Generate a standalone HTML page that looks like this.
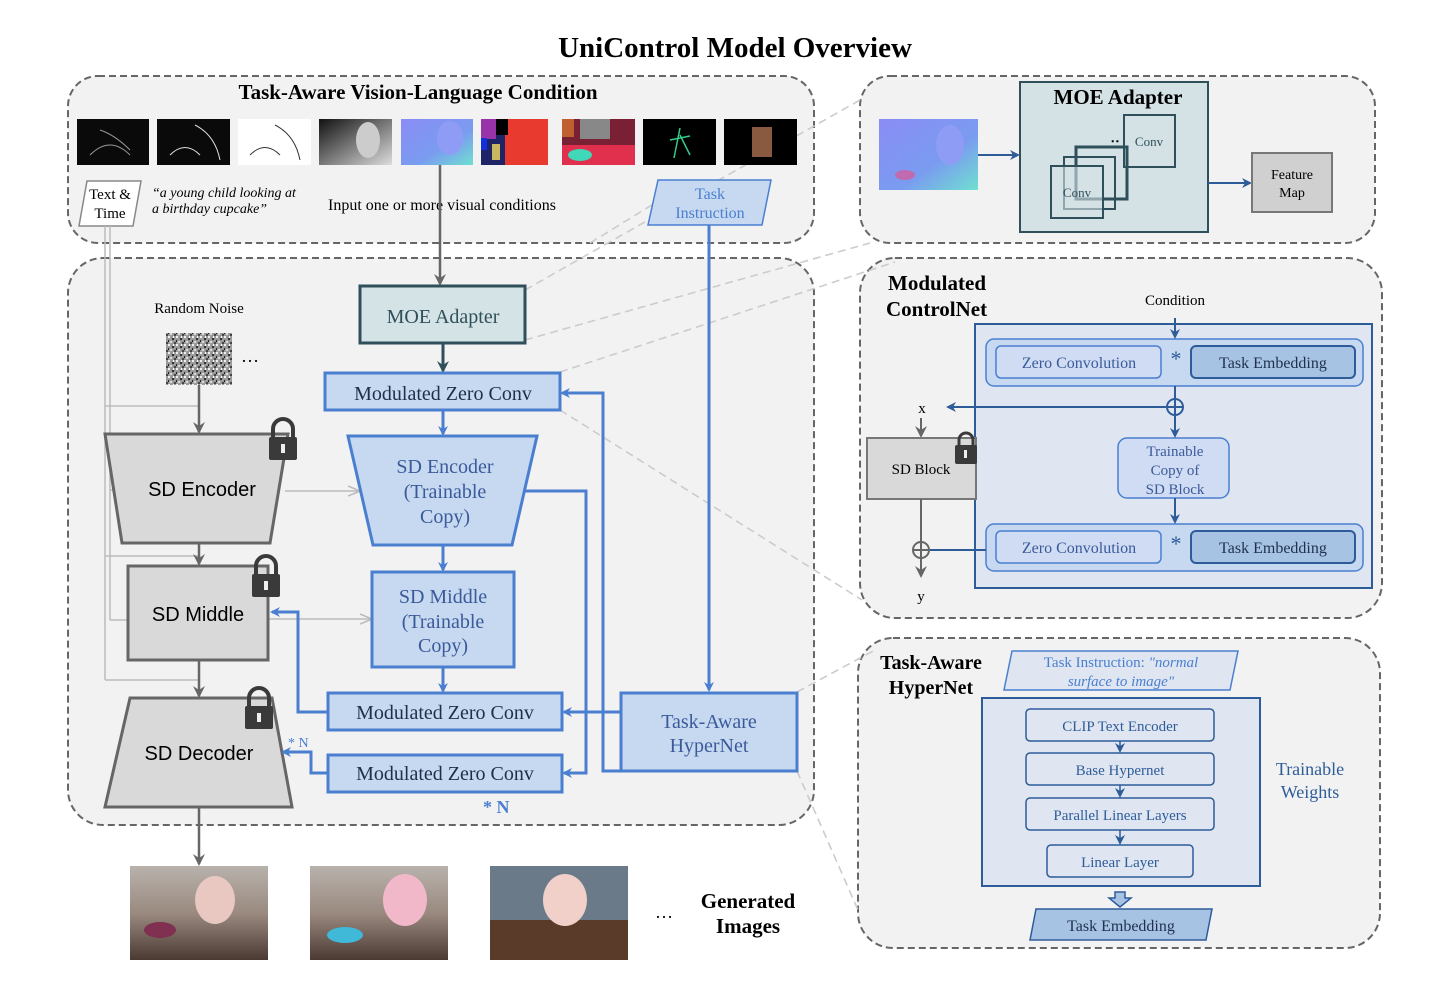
<!DOCTYPE html>
<html><head><meta charset="utf-8"><style>
body{margin:0;background:#fff}
svg{display:block}
text{font-family:"Liberation Serif",serif}
.s{font-family:"Liberation Sans",sans-serif}
</style></head><body>
<svg width="1440" height="983" viewBox="0 0 1440 983" xmlns="http://www.w3.org/2000/svg">
<defs>
<marker id="ab" markerWidth="10" markerHeight="10" refX="8" refY="5" orient="auto" markerUnits="userSpaceOnUse"><path d="M0,0 L10,5 L0,10 L3,5z" fill="#4a7fd0"/></marker>
<marker id="ag" markerWidth="12" markerHeight="12" refX="10" refY="6" orient="auto" markerUnits="userSpaceOnUse"><path d="M0,0 L12,6 L0,12 L4,6z" fill="#666"/></marker>
<marker id="al" markerWidth="12" markerHeight="12" refX="10" refY="6" orient="auto" markerUnits="userSpaceOnUse"><path d="M0,1 L12,6 L0,11" fill="none" stroke="#bbb" stroke-width="1.5"/></marker>
<marker id="ad" markerWidth="12" markerHeight="12" refX="10" refY="6" orient="auto" markerUnits="userSpaceOnUse"><path d="M0,0 L12,6 L0,12 L4,6z" fill="#2f4f5a"/></marker>
<marker id="an" markerWidth="10" markerHeight="10" refX="8" refY="5" orient="auto" markerUnits="userSpaceOnUse"><path d="M0,0 L10,5 L0,10 L3,5z" fill="#2e5c99"/></marker>
<linearGradient id="nm" x1="0" y1="0" x2="1" y2="1"><stop offset="0" stop-color="#8a8cf5"/><stop offset=".6" stop-color="#7a9cf0"/><stop offset="1" stop-color="#6fe0d0"/></linearGradient>
<linearGradient id="dp" x1="0" y1="0" x2="1" y2="1"><stop offset="0" stop-color="#111"/><stop offset="1" stop-color="#ddd"/></linearGradient>
<linearGradient id="ph" x1="0" y1="0" x2="0" y2="1"><stop offset="0" stop-color="#b8b2ac"/><stop offset=".5" stop-color="#9a8a80"/><stop offset="1" stop-color="#4a3a32"/></linearGradient>
<pattern id="nz" width="8" height="8" patternUnits="userSpaceOnUse"><rect width="8" height="8" fill="#999"/><rect x="0" y="0" width="2" height="2" fill="#eee"/><rect x="4" y="2" width="2" height="2" fill="#333"/><rect x="2" y="5" width="2" height="2" fill="#ddd"/><rect x="6" y="6" width="2" height="2" fill="#444"/><rect x="5" y="0" width="1" height="2" fill="#fff"/><rect x="0" y="4" width="1" height="2" fill="#222"/></pattern>
</defs>

<text x="735" y="57" text-anchor="middle" font-size="29" font-weight="bold">UniControl Model Overview</text>

<g fill="#f2f2f2" stroke="#666" stroke-width="2" stroke-dasharray="7,4">
<rect x="68" y="76" width="746" height="167" rx="30"/>
<rect x="68" y="258" width="746" height="567" rx="35"/>
<rect x="860" y="76" width="515" height="167" rx="30"/>
<rect x="860" y="258" width="522" height="360" rx="35"/>
<rect x="858" y="638" width="522" height="310" rx="35"/>
</g>
<g stroke="#ccc" stroke-width="1.6" stroke-dasharray="8,5" fill="none">
<line x1="525" y1="290" x2="860" y2="100"/>
<line x1="525" y1="340" x2="870" y2="243"/>
<line x1="560" y1="372" x2="895" y2="262"/>
<line x1="560" y1="410" x2="862" y2="600"/>
<line x1="797" y1="692" x2="875" y2="650"/>
<line x1="797" y1="771" x2="858" y2="910"/>
<line x1="590" y1="243" x2="660" y2="200"/>
</g>

<text x="418" y="99" text-anchor="middle" font-size="21" font-weight="bold">Task-Aware Vision-Language Condition</text>
<rect x="77" y="119" width="72" height="46" fill="#0a0a0a"/><path d="M90,155 q20,-20 40,0 M100,130 q15,5 30,20" stroke="#999" fill="none"/>
<rect x="157" y="119" width="73" height="46" fill="#0a0a0a"/><path d="M170,155 q15,-15 30,0 M195,125 q20,10 25,35" stroke="#ddd" fill="none"/>
<rect x="238" y="119" width="73" height="46" fill="#fff"/><path d="M250,155 q15,-15 30,0 M275,125 q20,10 25,35" stroke="#333" fill="none"/>
<rect x="319" y="119" width="73" height="46" fill="url(#dp)"/><ellipse cx="368" cy="140" rx="12" ry="18" fill="#ccc"/>
<rect x="401" y="119" width="72" height="46" fill="url(#nm)"/><ellipse cx="450" cy="138" rx="13" ry="17" fill="#8f9cf5"/>
<rect x="481" y="119" width="67" height="46" fill="#1e2466"/><rect x="481" y="119" width="15" height="20" fill="#9933aa"/><rect x="505" y="119" width="43" height="46" fill="#e83a2e"/><rect x="496" y="119" width="12" height="16" fill="#000"/><rect x="492" y="144" width="8" height="16" fill="#c8b860"/><rect x="481" y="138" width="6" height="12" fill="#1030e0"/>
<rect x="562" y="119" width="73" height="46" fill="#7a2035"/><rect x="562" y="145" width="73" height="20" fill="#e0304d"/><rect x="580" y="119" width="30" height="20" fill="#888"/><ellipse cx="580" cy="155" rx="12" ry="6" fill="#40d8b8"/><rect x="562" y="119" width="12" height="18" fill="#c06030"/>
<rect x="643" y="119" width="73" height="46" fill="#000"/><path d="M680,128 l-6,30 M680,135 l10,20 M670,140 l20,-4" stroke="#3c8" stroke-width="1.5"/>
<rect x="724" y="119" width="73" height="46" fill="#000"/><rect x="752" y="127" width="20" height="30" fill="#8a5a40"/>

<path d="M87,181 L141,181 L133,226 L79,226z" fill="#fff" stroke="#888" stroke-width="1.5"/>
<text x="110" y="199" text-anchor="middle" font-size="15">Text &amp;</text>
<text x="110" y="218" text-anchor="middle" font-size="15">Time</text>
<text x="152" y="197" font-size="14" font-style="italic">“a young child looking at</text>
<text x="152" y="213" font-size="14" font-style="italic">a birthday cupcake”</text>
<text x="328" y="210" font-size="16">Input one or more visual conditions</text>
<path d="M658,180 L771,180 L762,225 L648,225z" fill="#c6d9f1" stroke="#4a7fd0" stroke-width="1.5"/>
<text x="710" y="199" text-anchor="middle" font-size="16" fill="#4a7fd0">Task</text>
<text x="710" y="218" text-anchor="middle" font-size="16" fill="#4a7fd0">Instruction</text>

<g stroke="#bbb" stroke-width="1.5" fill="none">
<line x1="105" y1="226" x2="105" y2="680"/>
<line x1="110" y1="226" x2="110" y2="620"/>
<line x1="105" y1="406" x2="200" y2="406"/>
<line x1="105" y1="556" x2="200" y2="556"/>
<line x1="105" y1="680" x2="200" y2="680"/>
<line x1="110" y1="490" x2="120" y2="490"/>
<line x1="110" y1="620" x2="128" y2="620"/>
<line x1="285" y1="491" x2="358" y2="491" marker-end="url(#al)"/>
<line x1="268" y1="619" x2="370" y2="619" marker-end="url(#al)"/>
</g>

<text x="199" y="313" text-anchor="middle" font-size="15">Random Noise</text>
<rect x="166" y="333" width="66" height="52" fill="url(#nz)"/>
<text x="250" y="362" text-anchor="middle" font-size="18">…</text>

<g stroke="#666" stroke-width="2.5" fill="none">
<line x1="199" y1="385" x2="199" y2="432" marker-end="url(#ag)"/>
<line x1="199" y1="543" x2="199" y2="564" marker-end="url(#ag)"/>
<line x1="199" y1="660" x2="199" y2="696" marker-end="url(#ag)"/>
<line x1="199" y1="807" x2="199" y2="864" marker-end="url(#ag)"/>
<line x1="440" y1="165" x2="440" y2="284" marker-end="url(#ag)"/>
</g>

<g fill="#d9d9d9" stroke="#666" stroke-width="3">
<path d="M105,434 L288,434 L270,543 L122,543z"/>
<rect x="128" y="566" width="140" height="94"/>
<path d="M130,698 L272,698 L292,807 L105,807z"/>
</g>
<text class="s" x="202" y="496" text-anchor="middle" font-size="20">SD Encoder</text>
<text class="s" x="198" y="621" text-anchor="middle" font-size="20">SD Middle</text>
<text class="s" x="199" y="760" text-anchor="middle" font-size="20">SD Decoder</text>
<g fill="#3a3a3a">
<path d="M273,437 v-8 a10,10 0 0 1 20,0 v8" fill="none" stroke="#3a3a3a" stroke-width="4"/><rect x="269" y="437" width="28" height="23" rx="2"/><rect x="281" y="444" width="4" height="9" fill="#eee"/>
<path d="M256,574 v-8 a10,10 0 0 1 20,0 v8" fill="none" stroke="#3a3a3a" stroke-width="4"/><rect x="252" y="574" width="28" height="23" rx="2"/><rect x="264" y="581" width="4" height="9" fill="#eee"/>
<path d="M249,706 v-8 a10,10 0 0 1 20,0 v8" fill="none" stroke="#3a3a3a" stroke-width="4"/><rect x="245" y="706" width="28" height="23" rx="2"/><rect x="257" y="713" width="4" height="9" fill="#eee"/>
</g>

<rect x="360" y="286" width="165" height="57" fill="#d4e3e5" stroke="#2f4f5a" stroke-width="3"/>
<text x="443" y="323" text-anchor="middle" font-size="20" fill="#2f4f5a">MOE Adapter</text>
<line x1="443" y1="343" x2="443" y2="371" stroke="#2f4f5a" stroke-width="3" marker-end="url(#ad)"/>

<g fill="#c6d9f1" stroke="#4a7fd0" stroke-width="3">
<rect x="325" y="373" width="235" height="37"/>
<path d="M348,436 L537,436 L512,545 L373,545z"/>
<rect x="372" y="572" width="142" height="95"/>
<rect x="328" y="693" width="234" height="37"/>
<rect x="328" y="755" width="234" height="37"/>
<rect x="621" y="693" width="176" height="78"/>
</g>
<g font-size="20" text-anchor="middle" fill="#1f2f4a">
<text x="443" y="400">Modulated Zero Conv</text>
<text x="445" y="473" fill="#3b5a9a">SD Encoder</text>
<text x="445" y="498" fill="#3b5a9a">(Trainable</text>
<text x="445" y="523" fill="#3b5a9a">Copy)</text>
<text x="443" y="603" fill="#3b5a9a">SD Middle</text>
<text x="443" y="628" fill="#3b5a9a">(Trainable</text>
<text x="443" y="652" fill="#3b5a9a">Copy)</text>
<text x="445" y="719">Modulated Zero Conv</text>
<text x="445" y="780">Modulated Zero Conv</text>
<text x="709" y="728" fill="#3b5a9a">Task-Aware</text>
<text x="709" y="752" fill="#3b5a9a">HyperNet</text>
</g>
<g stroke="#4a7fd0" stroke-width="3" fill="none">
<line x1="443" y1="410" x2="443" y2="434" marker-end="url(#ab)"/>
<line x1="443" y1="545" x2="443" y2="570" marker-end="url(#ab)"/>
<line x1="443" y1="667" x2="443" y2="691" marker-end="url(#ab)"/>
<line x1="709" y1="225" x2="709" y2="690" marker-end="url(#ab)"/>
<polyline points="523,491 586,491 586,773 564,773" marker-end="url(#ab)"/>
<polyline points="621,712 603,712 603,393 562,393" marker-end="url(#ab)"/>
<polyline points="603,712 564,712" marker-end="url(#ab)"/>
<polyline points="603,712 603,771 621,771"/>
<polyline points="328,712 298,712 298,612 272,612" marker-end="url(#ab)"/>
<polyline points="328,773 311,773 311,752 283,752" marker-end="url(#ab)"/>
</g>
<text x="288" y="747" font-size="14" fill="#4a7fd0">* N</text>
<text x="483" y="813" font-size="18" fill="#4a7fd0" font-weight="bold">* N</text>

<rect x="130" y="866" width="138" height="94" fill="url(#ph)"/><ellipse cx="215" cy="900" rx="20" ry="24" fill="#e8c8c0"/><ellipse cx="160" cy="930" rx="16" ry="8" fill="#803050"/>
<rect x="310" y="866" width="138" height="94" fill="url(#ph)"/><ellipse cx="405" cy="900" rx="22" ry="26" fill="#f0b8c8"/><ellipse cx="345" cy="935" rx="18" ry="8" fill="#40b8d8"/>
<rect x="490" y="866" width="138" height="94" fill="#6a7a88"/><rect x="490" y="920" width="138" height="40" fill="#5a3a28"/><ellipse cx="565" cy="900" rx="22" ry="26" fill="#f0d0c8"/>
<text x="664" y="918" text-anchor="middle" font-size="18">…</text>
<text x="748" y="908" text-anchor="middle" font-size="21" font-weight="bold">Generated</text>
<text x="748" y="933" text-anchor="middle" font-size="21" font-weight="bold">Images</text>

<rect x="879" y="119" width="99" height="71" fill="url(#nm)"/><ellipse cx="950" cy="145" rx="14" ry="20" fill="#8f9cf5"/><ellipse cx="905" cy="175" rx="10" ry="5" fill="#c06ab0"/>
<rect x="1020" y="82" width="188" height="150" fill="#d4e1e5" stroke="#2f4f5a" stroke-width="2"/>
<text x="1118" y="104" text-anchor="middle" font-size="21" font-weight="bold">MOE Adapter</text>
<rect x="1124" y="115" width="51" height="52" fill="none" stroke="#2f4f5a" stroke-width="2"/>
<text x="1149" y="146" text-anchor="middle" font-size="13" fill="#2f4f5a">Conv</text>
<text x="1115" y="142" text-anchor="middle" font-size="14" font-weight="bold">‥</text>
<rect x="1076" y="147" width="51" height="52" fill="none" stroke="#2f4f5a" stroke-width="3"/>
<rect x="1064" y="157" width="51" height="52" fill="none" stroke="#2f4f5a" stroke-width="2"/>
<rect x="1051" y="166" width="52" height="52" fill="#d4e1e5" fill-opacity=".6" stroke="#2f4f5a" stroke-width="2"/>
<text x="1077" y="197" text-anchor="middle" font-size="13" fill="#2f4f5a">Conv</text>
<line x1="978" y1="155" x2="1018" y2="155" stroke="#2e5c99" stroke-width="2" marker-end="url(#an)"/>
<line x1="1208" y1="183" x2="1250" y2="183" stroke="#2e5c99" stroke-width="2" marker-end="url(#an)"/>
<rect x="1252" y="153" width="80" height="59" fill="#d0d0d0" stroke="#777" stroke-width="2"/>
<text x="1292" y="179" text-anchor="middle" font-size="14">Feature</text>
<text x="1292" y="197" text-anchor="middle" font-size="14">Map</text>

<text x="888" y="290" font-size="21" font-weight="bold">Modulated</text>
<text x="886" y="316" font-size="21" font-weight="bold">ControlNet</text>
<text x="1175" y="305" text-anchor="middle" font-size="15">Condition</text>
<rect x="975" y="324" width="397" height="264" fill="#dfe6f1" stroke="#2e5c99" stroke-width="2"/>
<g stroke="#4a7fd0" stroke-width="1.5">
<rect x="986" y="339" width="377" height="47" rx="8" fill="#c6d9f1"/>
<rect x="986" y="524" width="377" height="47" rx="8" fill="#c6d9f1"/>
<rect x="996" y="346" width="165" height="32" rx="5" fill="#cfdcf3"/>
<rect x="996" y="531" width="165" height="32" rx="5" fill="#cfdcf3"/>
<rect x="1118" y="438" width="111" height="60" rx="9" fill="#cfdcf3"/>
</g>
<rect x="1191" y="346" width="164" height="32" rx="5" fill="#a7c3e3" stroke="#2e5c99" stroke-width="2"/>
<rect x="1191" y="531" width="164" height="32" rx="5" fill="#a7c3e3" stroke="#2e5c99" stroke-width="2"/>
<g font-size="16" text-anchor="middle" fill="#3b5a9a">
<text x="1079" y="368">Zero Convolution</text><text x="1273" y="368" fill="#1f3050">Task Embedding</text>
<text x="1079" y="553">Zero Convolution</text><text x="1273" y="553" fill="#1f3050">Task Embedding</text>
<text x="1175" y="456" font-size="15">Trainable</text><text x="1175" y="475" font-size="15">Copy of</text><text x="1175" y="494" font-size="15">SD Block</text>
</g>
<text x="1176" y="366" text-anchor="middle" font-size="22" fill="#2e5c99">*</text>
<text x="1176" y="551" text-anchor="middle" font-size="22" fill="#2e5c99">*</text>
<g stroke="#2e5c99" stroke-width="2" fill="none">
<line x1="1175" y1="318" x2="1175" y2="337" marker-end="url(#an)"/>
<line x1="1175" y1="386" x2="1175" y2="436" marker-end="url(#an)"/>
<line x1="1175" y1="498" x2="1175" y2="522" marker-end="url(#an)"/>
<circle cx="1175" cy="407" r="8"/><line x1="1167" y1="407" x2="1183" y2="407"/>
<line x1="1166" y1="407" x2="948" y2="407" marker-end="url(#an)"/>
<line x1="986" y1="550" x2="930" y2="550"/>
</g>
<text x="922" y="413" text-anchor="middle" font-size="15">x</text>
<rect x="867" y="438" width="109" height="61" fill="#d9d9d9" stroke="#777" stroke-width="2"/>
<text x="921" y="474" text-anchor="middle" font-size="15">SD Block</text>
<path d="M959,445 v-5 a7,7 0 0 1 14,0 v5" fill="none" stroke="#3a3a3a" stroke-width="3"/><rect x="955" y="445" width="22" height="19" rx="2" fill="#3a3a3a"/><rect x="964" y="450" width="3" height="8" fill="#eee"/>
<g stroke="#666" stroke-width="2" fill="none">
<line x1="921" y1="418" x2="921" y2="436" marker-end="url(#ag)"/>
<line x1="921" y1="499" x2="921" y2="576" marker-end="url(#ag)"/>
<circle cx="921" cy="550" r="8"/><line x1="913" y1="550" x2="929" y2="550"/>
</g>
<text x="921" y="601" text-anchor="middle" font-size="15">y</text>

<text x="931" y="669" text-anchor="middle" font-size="20" font-weight="bold">Task-Aware</text>
<text x="931" y="694" text-anchor="middle" font-size="20" font-weight="bold">HyperNet</text>
<path d="M1012,651 L1238,651 L1230,690 L1004,690z" fill="#dfe6f1" stroke="#4a7fd0" stroke-width="1.5"/>
<text x="1121" y="667" text-anchor="middle" font-size="15" fill="#4a7fd0">Task Instruction: <tspan font-style="italic">"normal</tspan></text>
<text x="1121" y="686" text-anchor="middle" font-size="15" fill="#4a7fd0" font-style="italic">surface to image"</text>
<rect x="982" y="698" width="278" height="188" fill="#dfe6f1" stroke="#2e5c99" stroke-width="2"/>
<g fill="#dfe6f1" stroke="#2e5c99" stroke-width="1.5">
<rect x="1026" y="709" width="188" height="32" rx="4"/>
<rect x="1026" y="753" width="188" height="32" rx="4"/>
<rect x="1026" y="798" width="188" height="32" rx="4"/>
<rect x="1047" y="845" width="146" height="32" rx="4"/>
</g>
<g font-size="15" text-anchor="middle" fill="#2e5c99">
<text x="1120" y="731">CLIP Text Encoder</text>
<text x="1120" y="775">Base Hypernet</text>
<text x="1120" y="820">Parallel Linear Layers</text>
<text x="1120" y="867">Linear Layer</text>
</g>
<g stroke="#2e5c99" stroke-width="1.5">
<line x1="1120" y1="741" x2="1120" y2="751" marker-end="url(#an)"/>
<line x1="1120" y1="785" x2="1120" y2="796" marker-end="url(#an)"/>
<line x1="1120" y1="830" x2="1120" y2="843" marker-end="url(#an)"/>
</g>
<path d="M1115,892 h10 v6 h6 l-11,9 l-11,-9 h6z" fill="#a7c3e3" stroke="#2e5c99" stroke-width="1.5"/>
<path d="M1036,909 L1212,909 L1206,940 L1030,940z" fill="#a7c3e3" stroke="#2e5c99" stroke-width="1.5"/>
<text x="1121" y="931" text-anchor="middle" font-size="16" fill="#1f3050">Task Embedding</text>
<text x="1310" y="775" text-anchor="middle" font-size="18" fill="#2e5c99">Trainable</text>
<text x="1310" y="798" text-anchor="middle" font-size="18" fill="#2e5c99">Weights</text>
</svg>
</body></html>
